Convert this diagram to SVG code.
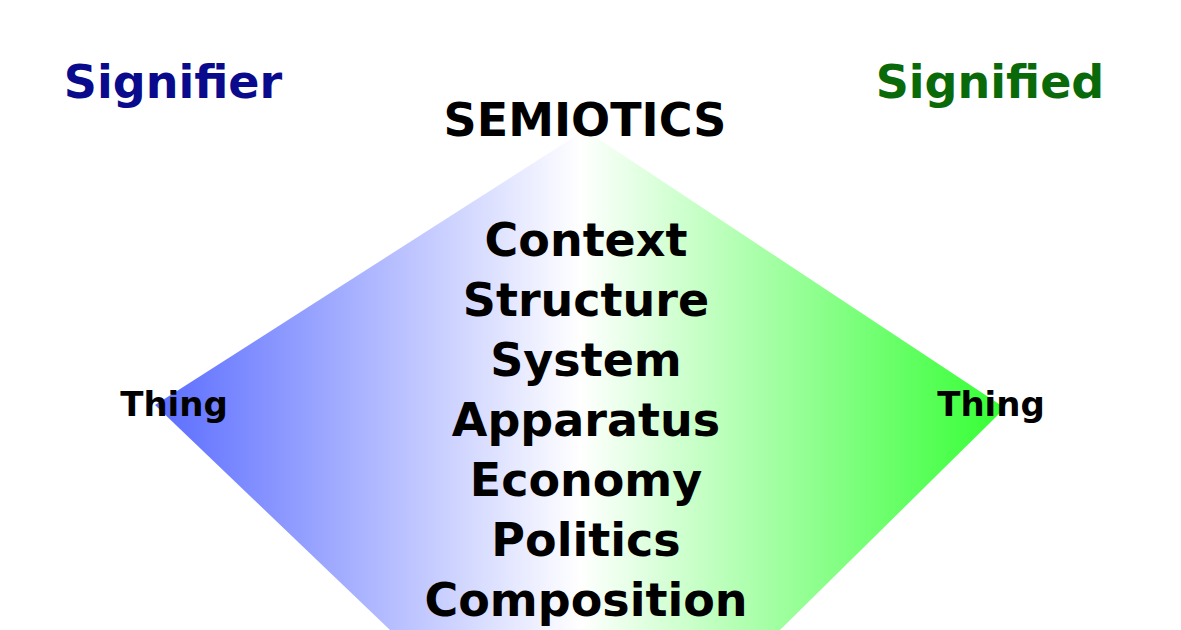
<svg xmlns="http://www.w3.org/2000/svg" width="1181" height="630" viewBox="0 0 1181 630">
<style>
text{font-family:"DejaVu Sans",Verdana,sans-serif;font-weight:bold;text-anchor:middle}
.c{font-size:46px;fill:#000}
</style>
<defs>
<linearGradient id="g" x1="155" y1="0" x2="1005" y2="0" gradientUnits="userSpaceOnUse">
<stop offset="0" stop-color="#5a6cff"/>
<stop offset="0.5" stop-color="#ffffff"/>
<stop offset="1" stop-color="#33ff33"/>
</linearGradient>
</defs>
<rect width="1181" height="630" fill="#fff"/>
<g id="diamond"><polygon points="585,130 1005,408 780,630 390,630 155,405" fill="url(#g)"/></g>
<g id="signifier"><text x="173" y="98" font-size="46" fill="#0a0a8c">Signifier</text></g>
<g id="signified"><text x="990" y="98" font-size="46" fill="#0a6a0a">Signified</text></g>
<g id="semiotics"><text x="585" y="136" font-size="46">SEMIOTICS</text></g>
<g id="thing-left"><text x="174" y="416" font-size="34">Thing</text></g>
<g id="thing-right"><text x="991" y="416" font-size="34">Thing</text></g>
<g id="list">
<text class="c" x="586" y="256">Context</text>
<text class="c" x="586" y="316">Structure</text>
<text class="c" x="586" y="376">System</text>
<text class="c" x="586" y="436">Apparatus</text>
<text class="c" x="586" y="496">Economy</text>
<text class="c" x="586" y="556">Politics</text>
<text class="c" x="586" y="616">Composition</text>
</g>
<g id="connectors"/>
</svg>
